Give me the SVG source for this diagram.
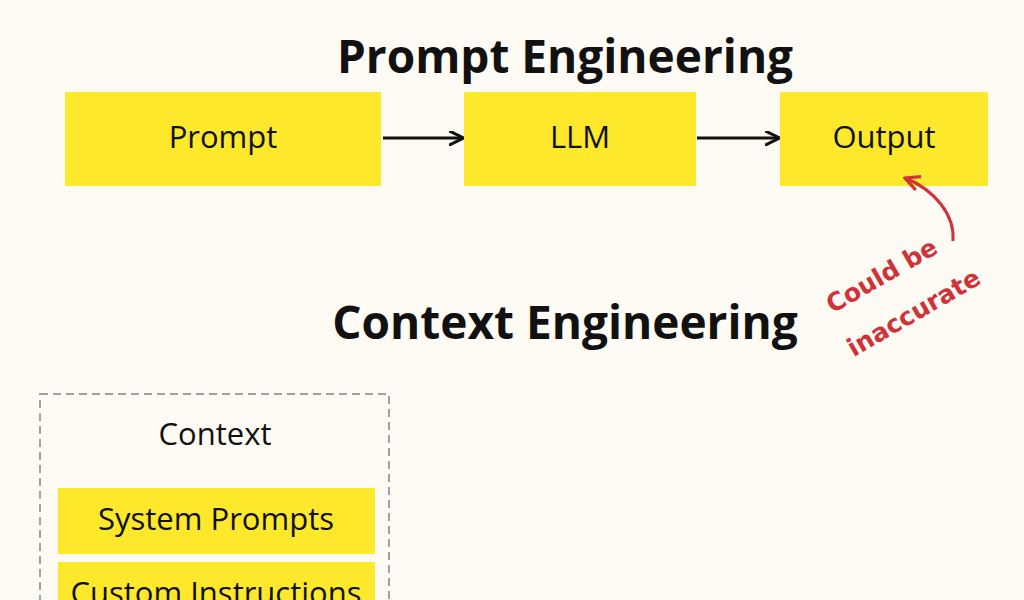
<svg xmlns="http://www.w3.org/2000/svg" width="1024" height="600" viewBox="0 0 1024 600">
<defs>
<style>
.box{fill:#fde82b}
.t{font-family:"Open Sans","Noto Sans",sans-serif;fill:#111;text-anchor:middle}
.title{font-size:46px;font-weight:bold}
.lbl{font-size:31px}
.note{font-family:"DejaVu Sans",sans-serif;font-size:25px;fill:#d0323a;text-anchor:middle}
.conn{stroke:#111;stroke-width:3;fill:none}
</style>
<marker id="ah" viewBox="0 0 10 10" refX="9" refY="5" markerWidth="5" markerHeight="5" orient="auto"><path d="M0,0 L10,5 L0,10" fill="none" stroke="#111" stroke-width="2"/></marker>
<marker id="rh" viewBox="0 0 10 10" refX="9" refY="5" markerWidth="6" markerHeight="6" orient="auto"><path d="M1,1 L9,5 L1,9" fill="none" stroke="#d0323a" stroke-width="1.8"/></marker>
</defs>
<rect width="1024" height="600" fill="#fdfbf4"/>
<text class="t title" x="565" y="73">Prompt Engineering</text>
<text class="t title" x="565" y="339">Context Engineering</text>
<g id="prompt"><rect class="box" x="65" y="92" width="316" height="94"/><text class="t lbl" x="223" y="148">Prompt</text></g>
<g id="llm"><rect class="box" x="464" y="92" width="232" height="94"/><text class="t lbl" x="580" y="148">LLM</text></g>
<g id="output"><rect class="box" x="780" y="92" width="208" height="94"/><text class="t lbl" x="884" y="148">Output</text></g>
<g id="connectors">
<path class="conn" d="M383,138 H462" marker-end="url(#ah)"/>
<path class="conn" d="M697,138 H778" marker-end="url(#ah)"/>
<path d="M953,241 C955,215 935,190 905,178" fill="none" stroke="#d0323a" stroke-width="3" marker-end="url(#rh)"/>
</g>
<g id="note">
<text class="note" font-weight="bold" transform="translate(886,283) rotate(-30)">Could be</text>
<text class="note" font-weight="bold" transform="translate(918,320) rotate(-30)">inaccurate</text>
</g>
<g id="context">
<rect x="40" y="394" width="349" height="230" fill="none" stroke="#9aa3ab" stroke-width="2" stroke-dasharray="8,5"/>
<text class="t lbl" x="215" y="445">Context</text>
</g>
<g id="system"><rect class="box" x="58" y="488" width="317" height="66"/><text class="t lbl" x="216" y="530">System Prompts</text></g>
<g id="custom"><rect class="box" x="58" y="562" width="317" height="66"/><text class="t lbl" x="216" y="604">Custom Instructions</text></g>
</svg>
